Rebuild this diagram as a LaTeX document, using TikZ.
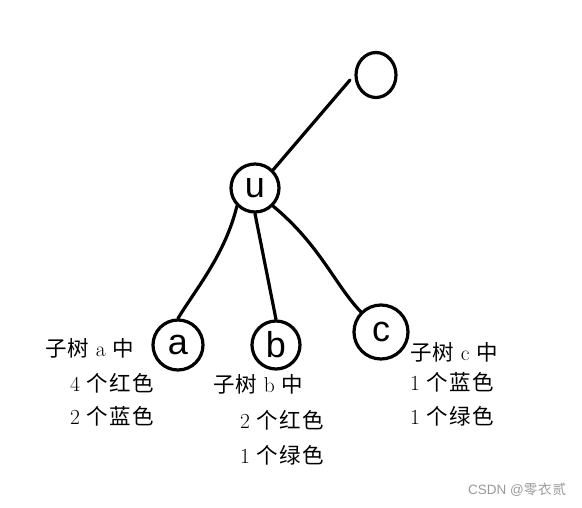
\documentclass[tikz,border=0pt]{standalone}
\usepackage{fontspec}
\usetikzlibrary{shapes.geometric}
\newfontfamily\cjk[LetterSpace=6]{Noto Sans CJK SC}
\newfontfamily\hand{Liberation Sans}
\begin{document}
\begin{tikzpicture}[x=1pt,y=-1pt,
  vert/.style={draw,circle,line width=3.2pt,inner sep=0pt,font=\hand\fontsize{36}{36}\selectfont},
  edge/.style={line width=3.2pt,line cap=round},
  lbl/.style={anchor=west,inner sep=0pt,font=\fontsize{21.5}{21.5}\selectfont},
  wmark/.style={anchor=west,inner sep=0pt,text=gray!80,font=\hand\fontsize{13.5}{13.5}\selectfont}]
\useasboundingbox (0,0) rectangle (582,507);
\node[vert,ellipse,minimum width=40pt,minimum height=45pt] at (376,75) (r) {};
\node[vert,minimum size=48pt] at (255,188) (u) {u};
\node[vert,minimum size=50pt] at (178,345) (a) {a};
\node[vert,minimum size=48pt] at (276,345) (b) {b};
\node[vert,minimum size=54pt] at (381,332) (c) {c};
\coordinate (rs) at (350,80);
\draw[edge] (rs) -- (u.north east);
\draw[edge] (u.south west) .. controls (225,255) and (195,290) .. (a.north);
\draw[edge] (u.south) -- (b.north);
\draw[edge] (u.south east) .. controls (320,245) and (335,285) .. (c.north west);
\node[lbl] (t1) at (45,348) {{\cjk 子树} a {\cjk 中}};
\node[lbl] (t2) at (70,383) {4 {\cjk 个红色}};
\node[lbl] (t3) at (70,416) {2 {\cjk 个蓝色}};
\node[lbl] (t4) at (213,384) {{\cjk 子树} b {\cjk 中}};
\node[lbl] (t5) at (240,420) {2 {\cjk 个红色}};
\node[lbl] (t6) at (240,455) {1 {\cjk 个绿色}};
\node[lbl] (t7) at (410,352) {{\cjk 子树} c {\cjk 中}};
\node[lbl] (t8) at (410,382) {1 {\cjk 个蓝色}};
\node[lbl] (t9) at (410,416) {1 {\cjk 个绿色}};
\node[wmark] (wm) at (468,490) {CSDN @{\cjk 零衣贰}};
\end{tikzpicture}
\end{document}
